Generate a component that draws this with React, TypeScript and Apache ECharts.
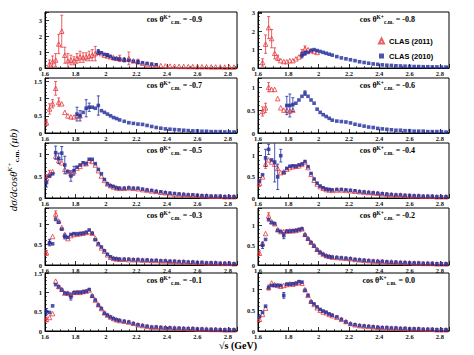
import React, { useEffect, useRef } from "react";
import * as echarts from "echarts";

const _ = null;

// Energy grid (sqrt(s), GeV)
const W = [
  1.61, 1.63, 1.65, 1.67, 1.69, 1.71, 1.73, 1.75, 1.77, 1.79, 1.81, 1.83, 1.85, 1.87, 1.89, 1.91, 1.93, 1.95, 1.97, 1.99, 2.01, 2.03, 2.05, 2.07, 2.09,
  2.12, 2.15, 2.18, 2.21, 2.24, 2.27, 2.3, 2.33, 2.36, 2.39, 2.42, 2.45, 2.48, 2.51, 2.54, 2.57, 2.6, 2.63, 2.66, 2.69, 2.72, 2.75, 2.78, 2.81, 2.84,
];

const COS = ["-0.9", "-0.8", "-0.7", "-0.6", "-0.5", "-0.4", "-0.3", "-0.2", "-0.1", "0.0"];

const X_TICKS = [1.6, 1.8, 2, 2.2, 2.4, 2.6, 2.8];

// CLAS (2011) - red
const red1 = [
  _, 0.25, 0.4, 0.5, 1.5, 2.3, 0.8, 0.45, 0.5, 0.45, 0.6, 0.7, 0.65, 0.7, 0.75, 0.8, 0.9, 1.0, 0.9, 0.8, 0.75, 0.7, 0.65, 0.6, 0.6,
  0.55, 0.6, 0.45, 0.4, 0.3, 0.25, 0.2, 0.17, 0.15, 0.13, 0.12, 0.11, 0.1, 0.1, 0.09, 0.09, 0.08, 0.08, 0.08, 0.07, 0.07, 0.07, 0.06, 0.06, 0.06,
];
const red2 = [
  _, 0.3, 1.3, 2.2, 1.6, 0.8, 0.55, 0.4, 0.35, 0.35, 0.4, 0.4, 0.5, 0.6, 0.8, 1.05, 1.0, 0.95, 0.9, 0.85, _, _, _, _, _,
  _, _, _, _, _, _, _, _, _, _, _, _, _, _, _, _, _, _, _, _, _, _, _, _, _,
];
const red3 = [
  0.3, 0.7, 0.85, 1.3, 0.9, 0.85, 0.6, 0.5, 0.47, 0.47, 0.5, 0.5, _, _, _, _, _, _, _, _, _, _, _, _, _,
  _, _, _, _, _, _, _, _, _, _, _, _, _, _, _, _, _, _, _, _, _, _, _, _, _,
];
const red4 = [
  _, 0.47, 0.55, 1.0, 0.95, 0.95, 0.75, 0.55, 0.5, 0.5, 0.48, 0.5, _, _, _, _, _, _, _, _, _, _, _, _, _,
  _, _, _, _, _, _, _, _, _, _, _, _, _, _, _, _, _, _, _, _, _, _, _, _, _,
];
const red5 = [
  0.45, 0.55, 0.6, 0.95, 0.85, 0.8, 0.65, 0.6, 0.55, 0.6, 0.68, 0.72, 0.78, 0.78, 0.85, 0.83, 0.75, 0.62, 0.5, 0.4, 0.32, 0.28, 0.25, 0.23, 0.22,
  0.22, 0.23, 0.22, 0.21, 0.19, 0.18, 0.16, 0.15, 0.13, 0.12, 0.1, 0.09, 0.08, 0.08, 0.07, 0.06, 0.06, 0.05, 0.05, 0.04, 0.04, 0.04, 0.03, 0.03, 0.03,
];
const red6 = [
  0.35, 0.5, 0.8, 0.9, 0.85, 0.8, 0.7, 0.6, 0.62, 0.68, 0.72, 0.74, 0.75, 0.76, 0.8, 0.85, 0.72, 0.56, 0.42, 0.33, 0.27, 0.23, 0.2, 0.19, 0.18,
  0.19, 0.19, 0.18, 0.17, 0.16, 0.15, 0.14, 0.13, 0.12, 0.11, 0.1, 0.09, 0.08, 0.07, 0.07, 0.06, 0.05, 0.05, 0.05, 0.04, 0.04, 0.04, 0.03, 0.03, 0.03,
];
const red7 = [
  0.3, 0.55, 0.7, 1.25, 1.08, 0.92, 0.75, 0.65, 0.72, 0.75, 0.76, 0.77, 0.78, 0.8, 0.82, 0.78, 0.66, 0.52, 0.42, 0.34, 0.25, 0.19, 0.16, 0.15, 0.14,
  0.14, 0.13, 0.13, 0.13, 0.12, 0.12, 0.11, 0.11, 0.1, 0.1, 0.09, 0.09, 0.08, 0.08, 0.07, 0.07, 0.06, 0.06, 0.05, 0.05, 0.05, 0.04, 0.04, 0.04, 0.03,
];
const red8 = [
  0.3, 0.55, 0.8, 1.25, 1.1, 1.05, 0.9, 0.85, 0.85, 0.86, 0.87, 0.87, 0.88, 0.9, 0.92, 0.78, 0.68, 0.58, 0.5, 0.4, 0.33, 0.28, 0.24, 0.22, 0.2,
  0.19, 0.18, 0.17, 0.16, 0.14, 0.13, 0.12, 0.11, 0.1, 0.1, 0.09, 0.08, 0.08, 0.07, 0.07, 0.06, 0.06, 0.05, 0.05, 0.04, 0.04, 0.04, 0.03, 0.03, 0.03,
];
const red9 = [
  0.3, 0.35, 0.45, 1.29, 1.15, 1.08, 0.98, 0.98, 0.95, 1.0, 1.0, 1.0, 1.02, 1.03, 1.06, 0.92, 0.8, 0.68, 0.58, 0.47, 0.41, 0.36, 0.32, 0.29, 0.27,
  0.25, 0.23, 0.2, 0.16, 0.14, 0.12, 0.1, 0.1, 0.09, 0.09, 0.08, 0.08, 0.07, 0.07, 0.06, 0.06, 0.05, 0.05, 0.05, 0.04, 0.04, 0.04, 0.03, 0.03, 0.03,
];
const red10 = [
  0.28, 0.4, 0.55, 1.05, 1.16, 1.12, 1.1, 1.08, 1.1, 1.12, 1.14, 1.13, 1.15, 1.18, 1.15, 1.0, 0.86, 0.72, 0.64, 0.56, 0.5, 0.46, 0.44, 0.4, 0.37,
  0.33, 0.28, 0.23, 0.18, 0.15, 0.13, 0.12, 0.11, 0.1, 0.09, 0.08, 0.08, 0.07, 0.07, 0.06, 0.06, 0.05, 0.05, 0.05, 0.04, 0.04, 0.04, 0.03, 0.03, 0.03,
];

// CLAS (2010) - blue
const blue1 = [
  _, _, _, _, _, _, _, _, _, _, _, _, _, _, _, _, _, 1.0, 0.95, 0.85, 0.8, 0.72, 0.6, 0.58, 0.55,
  0.5, 0.48, 0.42, 0.38, 0.32, 0.28, 0.24, 0.2, _, _, _, _, _, _, _, _, _, _, _, _, _, _, _, _, _,
];
const blue2 = [
  _, _, _, _, _, _, _, _, _, _, _, _, _, _, 0.7, 0.8, 0.85, 0.95, 1.0, 0.95, 0.9, 0.85, 0.8, 0.75, 0.7,
  0.62, 0.55, 0.5, 0.45, 0.4, 0.34, 0.3, 0.26, 0.22, 0.2, 0.17, 0.15, 0.14, 0.12, 0.11, 0.1, 0.09, 0.08, 0.08, 0.07, 0.07, 0.06, 0.06, 0.05, 0.05,
];
const blue3 = [
  _, _, _, _, _, _, _, _, _, _, 0.55, 0.5, 0.6, 0.72, 0.75, 0.75, 0.72, 0.8, 0.65, 0.6, 0.55, 0.5, 0.45, 0.42, 0.38,
  0.34, 0.3, 0.28, 0.26, 0.25, 0.22, 0.19, 0.16, 0.14, 0.12, 0.11, 0.1, 0.09, 0.08, 0.07, 0.06, 0.06, 0.05, 0.05, 0.04, 0.04, 0.04, 0.03, 0.03, 0.03,
];
const blue4 = [
  _, _, _, _, _, _, _, _, _, 0.6, 0.6, 0.62, 0.65, 0.72, 0.8, 0.87, 0.8, 0.72, 0.65, 0.52, 0.45, 0.4, 0.36, 0.32, 0.28,
  0.26, 0.25, 0.24, 0.22, 0.19, 0.17, 0.15, 0.13, 0.12, 0.1, 0.09, 0.08, 0.07, 0.06, 0.06, 0.05, 0.05, 0.04, 0.04, 0.04, 0.03, 0.03, 0.03, 0.03, 0.02,
];
const blue5 = [
  0.35, 0.5, 0.55, 1.03, 0.9, 1.02, 0.75, 0.6, 0.5, 0.62, 0.7, 0.75, 0.8, 0.78, 0.88, 0.88, 0.78, 0.65, 0.55, 0.42, 0.32, 0.28, 0.26, 0.23, 0.22,
  0.22, 0.23, 0.22, 0.22, 0.2, 0.18, 0.17, 0.15, 0.14, 0.12, 0.11, 0.1, 0.09, 0.08, 0.07, 0.07, 0.06, 0.05, 0.05, 0.04, 0.04, 0.04, 0.03, 0.03, 0.03,
];
const blue6 = [
  0.4, 0.55, 0.95, 1.15, 0.9, 0.85, 0.5, 1.0, 0.6, 0.7, 0.75, 0.76, 0.75, 0.78, 0.8, 0.86, 0.74, 0.58, 0.45, 0.35, 0.28, 0.24, 0.21, 0.2, 0.19,
  0.2, 0.2, 0.19, 0.18, 0.17, 0.15, 0.14, 0.13, 0.12, 0.11, 0.1, 0.09, 0.08, 0.07, 0.07, 0.06, 0.06, 0.05, 0.05, 0.04, 0.04, 0.04, 0.03, 0.03, 0.03,
];
const blue7 = [
  _, 0.55, 0.52, 1.12, 1.05, 0.88, 0.7, 0.68, 0.75, 0.77, 0.76, 0.77, 0.78, 0.8, 0.86, 0.78, 0.62, 0.52, 0.44, 0.35, 0.26, 0.2, 0.16, 0.15, 0.14,
  0.14, 0.14, 0.13, 0.13, 0.12, 0.12, 0.11, 0.11, 0.1, 0.1, 0.09, 0.09, 0.08, 0.08, 0.07, 0.07, 0.06, 0.06, 0.05, 0.05, 0.05, 0.04, 0.04, 0.04, 0.03,
];
const blue8 = [
  _, 0.5, 0.65, 1.15, 1.08, 1.05, 0.88, 0.85, 0.75, 0.86, 0.86, 0.87, 0.88, 0.9, 0.92, 0.76, 0.66, 0.57, 0.48, 0.38, 0.32, 0.27, 0.23, 0.21, 0.2,
  0.19, 0.18, 0.17, 0.16, 0.14, 0.13, 0.12, 0.11, 0.1, 0.09, 0.09, 0.08, 0.07, 0.07, 0.06, 0.06, 0.05, 0.05, 0.05, 0.04, 0.04, 0.04, 0.03, 0.03, 0.03,
];
const blue9 = [
  0.5, 0.48, 0.65, 1.2, 1.14, 1.06, 0.98, 0.97, 0.88, 0.99, 1.0, 1.0, 1.01, 1.03, 1.07, 0.9, 0.8, 0.67, 0.58, 0.46, 0.41, 0.36, 0.32, 0.29, 0.27,
  0.25, 0.23, 0.19, 0.16, 0.14, 0.12, 0.1, 0.1, 0.09, 0.08, 0.08, 0.07, 0.07, 0.06, 0.06, 0.06, 0.05, 0.05, 0.04, 0.04, 0.04, 0.03, 0.03, 0.03, 0.03,
];
const blue10 = [
  0.35, 0.45, 0.6, 1.05, 1.1, 1.1, 1.1, 1.1, 0.86, 1.13, 1.13, 1.14, 1.15, 1.19, 1.18, 0.98, 0.86, 0.7, 0.65, 0.58, 0.52, 0.48, 0.45, 0.41, 0.38,
  0.34, 0.28, 0.22, 0.17, 0.15, 0.13, 0.12, 0.11, 0.1, 0.09, 0.08, 0.08, 0.07, 0.07, 0.06, 0.06, 0.05, 0.05, 0.05, 0.04, 0.04, 0.04, 0.03, 0.03, 0.03,
];

// Error bars [sqrt(s), error]
const redErr1 = [[1.63, 0.25], [1.65, 0.35], [1.67, 0.4], [1.69, 0.6], [1.71, 1.0], [1.73, 0.5], [1.75, 0.45], [1.77, 0.3], [1.79, 0.25], [1.81, 0.3], [1.83, 0.35], [1.85, 0.3], [1.87, 0.25], [1.89, 0.3], [1.91, 0.35], [1.93, 0.45], [2.09, 0.2], [2.15, 0.4], [2.21, 0.15]];
const redErr2 = [[1.63, 0.2], [1.65, 0.5], [1.67, 0.6], [1.69, 0.5], [1.71, 0.3], [1.73, 0.15], [1.89, 0.2], [1.91, 0.15]];
const redErr3 = [[1.61, 0.08], [1.63, 0.15], [1.65, 0.12], [1.67, 0.2], [1.69, 0.12]];
const redErr4 = [[1.63, 0.1], [1.65, 0.1], [1.67, 0.1]];
const redErr5 = [[1.61, 0.08], [1.63, 0.08]];
const redErr6 = [[1.61, 0.08], [1.65, 0.1]];
const redErr7 = [[1.61, 0.06], [1.67, 0.08]];
const redErr8 = [[1.61, 0.06], [1.67, 0.08]];
const redErr9 = [[1.61, 0.06]];
const redErr10 = [[1.61, 0.05], [1.67, 0.06]];

const blueErr1 = [[1.95, 0.15], [2.01, 0.1], [2.12, 0.12], [2.21, 0.1]];
const blueErr2 = [[1.89, 0.15], [1.91, 0.1]];
const blueErr3 = [[1.81, 0.2], [1.83, 0.15], [1.87, 0.25], [1.89, 0.12], [1.95, 0.28]];
const blueErr4 = [[1.79, 0.2], [1.81, 0.25], [1.83, 0.15], [1.91, 0.05]];
const blueErr5 = [[1.61, 0.1], [1.67, 0.15], [1.69, 0.12], [1.71, 0.15], [1.73, 0.2], [1.77, 0.12], [1.79, 0.1]];
const blueErr6 = [[1.65, 0.2], [1.67, 0.12], [1.71, 0.47], [1.73, 0.3], [1.75, 0.15]];
const blueErr7 = [[1.63, 0.08], [1.73, 0.06]];
const blueErr8 = [[1.63, 0.08], [1.77, 0.08]];
const blueErr9 = [[1.61, 0.08], [1.77, 0.08]];
const blueErr10 = [[1.77, 0.07]];

const Y_MAX = [3.5, 3.05, 1.6, 1.2, 1.25, 1.3, 1.4, 1.45, 1.5, 1.4];
const Y_STEP = [1, 1, 0.5, 0.5, 0.5, 0.5, 0.5, 0.5, 0.5, 0.5];

const RED = [red1, red2, red3, red4, red5, red6, red7, red8, red9, red10];
const BLUE = [blue1, blue2, blue3, blue4, blue5, blue6, blue7, blue8, blue9, blue10];
const RED_ERR = [redErr1, redErr2, redErr3, redErr4, redErr5, redErr6, redErr7, redErr8, redErr9, redErr10];
const BLUE_ERR = [blueErr1, blueErr2, blueErr3, blueErr4, blueErr5, blueErr6, blueErr7, blueErr8, blueErr9, blueErr10];

// Layout
const GRID_LEFT = [45, 258];
const GRID_WIDTH = [192, 191];
const GRID_TOP = [12, 78, 143, 208, 273];
const GRID_HEIGHT = [56, 55, 55, 57, 58];

const RED_COLOR = "#e5383f";
const BLUE_COLOR = "#1d2b9a";

const fmt = (step: number) => (v: number) => {
  const k = v / step;
  if (Math.abs(k - Math.round(k)) > 1e-6) return "";
  return String(parseFloat(v.toFixed(2)));
};

const makeErr = (color: string) => (params: any, api: any) => {
  const x = api.value(0);
  const lo = api.value(1);
  const hi = api.value(2);
  const a = api.coord([x, lo]);
  const b = api.coord([x, hi]);
  const st = { stroke: color, lineWidth: 0.8 };
  return {
    type: "group",
    children: [
      { type: "line", shape: { x1: a[0], y1: a[1], x2: b[0], y2: b[1] }, style: st },
      { type: "line", shape: { x1: a[0] - 1.5, y1: a[1], x2: a[0] + 1.5, y2: a[1] }, style: st },
      { type: "line", shape: { x1: b[0] - 1.5, y1: b[1], x2: b[0] + 1.5, y2: b[1] }, style: st },
    ],
  };
};

function buildOption() {
  const grid: any[] = [];
  const xAxis: any[] = [];
  const yAxis: any[] = [];
  const series: any[] = [];
  const graphic: any[] = [];
  const labelStyle = {
    fontFamily: "Liberation Serif",
    fontWeight: "bold",
    fontSize: 6.5,
    color: "#111",
  };
  for (let i = 0; i < 10; i++) {
    const col = i % 2;
    const row = Math.floor(i / 2);
    grid.push({
      left: GRID_LEFT[col],
      top: GRID_TOP[row],
      width: GRID_WIDTH[col],
      height: GRID_HEIGHT[row],
      show: true,
      borderColor: "#000",
      borderWidth: 1,
      backgroundColor: "#fff",
    });
    xAxis.push({
      type: "value",
      gridIndex: i,
      min: X_TICKS[0],
      max: 2.86,
      interval: 0.2,
      axisLine: { show: true, onZero: false, lineStyle: { color: "#000", width: 1 } },
      axisTick: { show: true, inside: true, length: 4, lineStyle: { color: "#000", width: 0.8 } },
      minorTick: { show: true, splitNumber: 4, length: 2, lineStyle: { color: "#000", width: 0.6 } },
      splitLine: { show: false },
      axisLabel: { ...labelStyle, margin: 2, formatter: fmt(0.2) },
    });
    yAxis.push({
      type: "value",
      gridIndex: i,
      min: 0,
      max: Y_MAX[i],
      interval: Y_STEP[i],
      axisLine: { show: true, onZero: false, lineStyle: { color: "#000", width: 1 } },
      axisTick: { show: true, inside: true, length: 4, lineStyle: { color: "#000", width: 0.8 } },
      minorTick: { show: true, splitNumber: 5, length: 2, lineStyle: { color: "#000", width: 0.6 } },
      splitLine: { show: false },
      axisLabel: { ...labelStyle, margin: 3, formatter: fmt(Y_STEP[i]) },
    });
    const redData = W.map((w, k) => (RED[i][k] == null ? null : [w, RED[i][k]])).filter((d) => d);
    const blueData = W.map((w, k) => (BLUE[i][k] == null ? null : [w, BLUE[i][k]])).filter((d) => d);
    const errData = (vals: any[], errs: number[][]) =>
      errs
        .map(([w, e]) => {
          const k = W.indexOf(w);
          const y = k >= 0 ? vals[k] : null;
          return y == null ? null : [w, Math.max(0, y - e), y + e];
        })
        .filter((d) => d);
    series.push({
      type: "custom",
      name: "err2011",
      xAxisIndex: i,
      yAxisIndex: i,
      renderItem: makeErr(RED_COLOR),
      data: errData(RED[i], RED_ERR[i]),
      clip: true,
      silent: true,
      z: 2,
    });
    series.push({
      type: "scatter",
      name: "CLAS (2011)",
      xAxisIndex: i,
      yAxisIndex: i,
      symbol: "triangle",
      symbolSize: 4.5,
      itemStyle: { color: "rgba(255,255,255,0)", borderColor: RED_COLOR, borderWidth: 1 },
      data: redData,
      z: 3,
    });
    series.push({
      type: "custom",
      name: "err2010",
      xAxisIndex: i,
      yAxisIndex: i,
      renderItem: makeErr(BLUE_COLOR),
      data: errData(BLUE[i], BLUE_ERR[i]),
      clip: true,
      silent: true,
      z: 4,
    });
    series.push({
      type: "scatter",
      name: "CLAS (2010)",
      xAxisIndex: i,
      yAxisIndex: i,
      symbol: "rect",
      symbolSize: 3.6,
      itemStyle: { color: BLUE_COLOR },
      data: blueData,
      z: 5,
    });
    graphic.push({
      type: "text",
      x: GRID_LEFT[col] + 157,
      y: GRID_TOP[row] + 7,
      z: 10,
      style: {
        text: `cos θ{sup|K+}{sub|c.m.} = ${COS[i]}`,
        fill: "#000",
        font: 'bold 8px "Liberation Serif"',
        lineHeight: 11,
        align: "right",
        verticalAlign: "middle",
        rich: {
          sup: { fontSize: 5.5, fontWeight: "bold", fontFamily: "Liberation Serif", verticalAlign: "top", lineHeight: 6 },
          sub: { fontSize: 5.5, fontWeight: "bold", fontFamily: "Liberation Serif", verticalAlign: "bottom", lineHeight: 6 },
        },
      },
    });
  }
  graphic.push({
    type: "text",
    x: 13,
    y: 170,
    rotation: Math.PI / 2,
    style: {
      text: "dσ/dcosθ{sup|K+}{sub|c.m.} (μb)",
      fill: "#000",
      font: 'italic 11px "Liberation Serif"',
      lineHeight: 14,
      align: "center",
      verticalAlign: "middle",
      rich: {
        sup: { fontSize: 7, fontStyle: "italic", fontFamily: "Liberation Serif", verticalAlign: "top", lineHeight: 7 },
        sub: { fontSize: 7, fontWeight: "bold", fontFamily: "Liberation Serif", verticalAlign: "bottom", lineHeight: 7 },
      },
    },
  });
  graphic.push({
    type: "text",
    x: 238,
    y: 345,
    style: {
      text: "√s (GeV)",
      fill: "#000",
      font: 'bold 10px "Liberation Serif"',
      align: "center",
      verticalAlign: "middle",
    },
  });
  return {
    animation: false,
    backgroundColor: "#fff",
    grid,
    xAxis,
    yAxis,
    series,
    graphic,
    legend: {
      orient: "vertical",
      left: 373,
      top: 32,
      itemWidth: 5,
      itemHeight: 5,
      itemGap: 7,
      data: [
        { name: "CLAS (2011)", icon: "triangle" },
        { name: "CLAS (2010)", icon: "rect" },
      ],
      textStyle: { fontFamily: "Liberation Sans", fontWeight: "bold", fontSize: 7.5, color: "#000" },
    },
  };
}

export default function App() {
  const ref = useRef<HTMLDivElement>(null);
  useEffect(() => {
    if (!ref.current) return;
    const chart = echarts.init(ref.current, undefined, { renderer: "svg" });
    chart.setOption(buildOption() as any);
    return () => chart.dispose();
  }, []);
  return (
    <div
      ref={ref}
      style={{ position: "absolute", left: 0, top: 0, width: 474, height: 355, background: "#fff" }}
    />
  );
}
